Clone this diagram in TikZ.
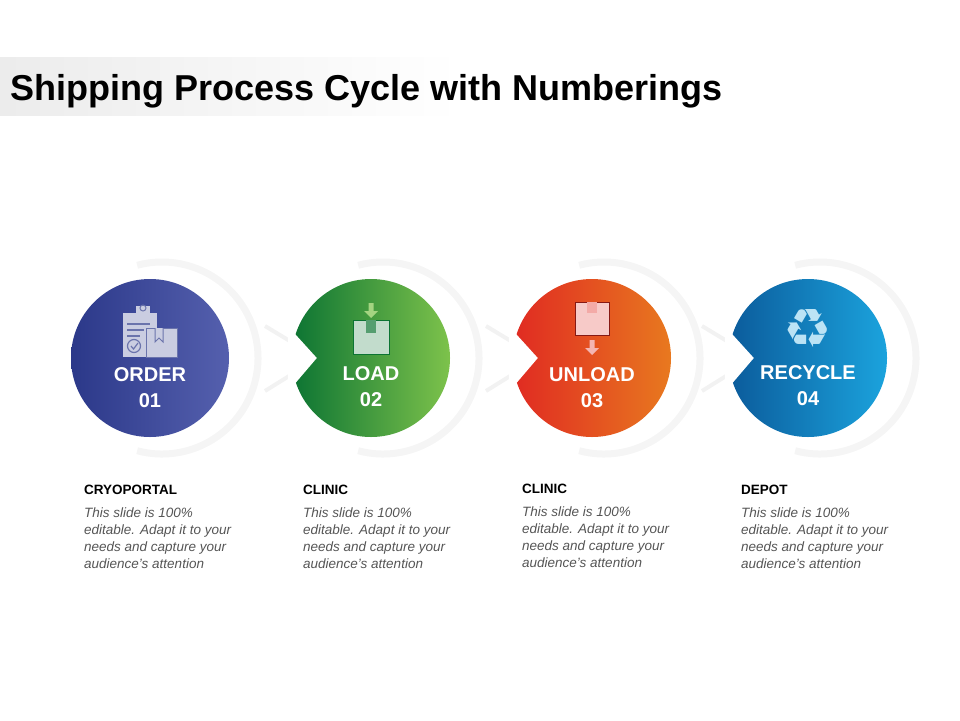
\documentclass[tikz,border=0pt]{standalone}
\usepackage{fontspec}
\setmainfont{Liberation Sans}
\newfontfamily\symfont{DejaVu Sans}
\usetikzlibrary{positioning}
\definecolor{ordA}{HTML}{2B3889}\definecolor{ordB}{HTML}{5560AE}
\definecolor{lodA}{HTML}{0C7433}\definecolor{lodB}{HTML}{7DC24B}
\definecolor{unlA}{HTML}{E02A22}\definecolor{unlB}{HTML}{E8791F}
\definecolor{recA}{HTML}{0B5B9B}\definecolor{recB}{HTML}{1BA3DD}
\definecolor{bodygray}{HTML}{555555}
\begin{document}
\begin{tikzpicture}[x=1pt,y=-1pt]
  \tikzstyle{step circle}=[circle,minimum size=158pt,inner sep=0pt]
  \tikzstyle{step title}=[font=\bfseries\fontsize{20}{24}\selectfont,text=white,align=center]
  \tikzstyle{head}=[font=\bfseries\fontsize{13.5}{15}\selectfont,anchor=base west,inner sep=0pt]
  \tikzstyle{body}=[font=\itshape\fontsize{13.5}{16.8}\selectfont,text=bodygray,align=left,anchor=north west,inner sep=0pt]
  \tikzstyle{ring}=[line width=7pt,gray!8]
  \tikzstyle{pointer}=[line width=4pt,gray!10]

  \useasboundingbox (0,0) rectangle (960,720);
  \shade[left color=gray!15,right color=white] (0,57) rectangle (460,115);
  \node[anchor=base west,inner sep=0pt,font=\bfseries\fontsize{36}{40}\selectfont] (title) at (10,100) {Shipping Process Cycle with Numberings};

  % rings and pointers
  \foreach \cx in {150,371,592,808}{
    \draw[ring] (\cx+12,358) ++(105:96) arc[start angle=105,end angle=-105,radius=96];
  }
  \foreach \cx in {371,592,808}{
    \draw[pointer] (\cx-106,326) -- (\cx-53,358) -- (\cx-106,391);
  }

  % circles
  \foreach \i/\cx/\ca/\cb in {1/150/ordA/ordB,2/371/lodA/lodB,3/592/unlA/unlB,4/808/recA/recB}{
    \node[step circle,left color=\ca,right color=\cb] (c\i) at (\cx,358) {};
  }
  \foreach \i in {2,3,4}{
    \fill[white] ([xshift=-4pt,yshift=32pt]c\i.west) -- ([xshift=25pt]c\i.west) -- ([xshift=-4pt,yshift=-34pt]c\i.west) -- cycle;
  }

  % icons
  \fill[ordA!25!white] (123,313) rectangle (157,357);
  \fill[ordA!25!white] (136,306) rectangle (150,315);
  \draw[ordA!70!white,line width=1pt] (143,308) circle (3);
  \draw[ordA!70!white,line width=1.5pt] (127,324) -- (150,324) (127,330) -- (144,330) (127,336) -- (140,336);
  \fill[ordA!25!white,draw=ordA!70!white,line width=1pt] (146,328) rectangle (177,357);
  \fill[ordA!25!white,draw=ordA!70!white,line width=1pt] (155,328) -- (155,342) -- (159,338) -- (163,342) -- (163,328);
  \draw[ordA!70!white,line width=1.2pt] (134,346) circle (6.5);
  \draw[ordA!70!white,line width=1.2pt] (131,346) -- (133.5,349) -- (138,343);

  \fill[lodA!25!white,draw=lodA,line width=1pt] (353,320) rectangle (389,354);
  \fill[lodA!70!white] (366,320) rectangle (376,333);
  \fill[lodB!70!white] (368.5,303) rectangle (373.5,311) (364,311) -- (378,311) -- (371,318) -- cycle;

  \fill[unlA!25!white,draw=unlA!60!black,line width=0.8pt] (575,302) rectangle (609,335);
  \fill[unlA!40!white] (587,302) rectangle (597,313);
  \fill[unlA!35!white] (589.5,340) rectangle (594.5,348) (585,348) -- (599,348) -- (592,355) -- cycle;

  \node[text=recB!30!white,font=\symfont\fontsize{54}{54}\selectfont] (ricon) at (808,328) {♻};

  % titles
  \node[step title] (t1) at (150,388) {ORDER\\[2pt]01};
  \node[step title] (t2) at (371,387) {LOAD\\[2pt]02};
  \node[step title] (t3) at (592,388) {UNLOAD\\[2pt]03};
  \node[step title] (t4) at (808,386) {RECYCLE\\[2pt]04};

  % descriptions
  \foreach \i/\x/\y/\h in {1/84/494/CRYOPORTAL,2/303/494/CLINIC,3/522/493/CLINIC,4/741/494/DEPOT}{
    \node[head] (h\i) at (\x,\y) {\h};
    \node[body] (b\i) at (\x,\y+14) {This slide is 100\%\\editable. Adapt it to your\\needs and capture your\\audience's attention};
  }
\end{tikzpicture}
\end{document}
